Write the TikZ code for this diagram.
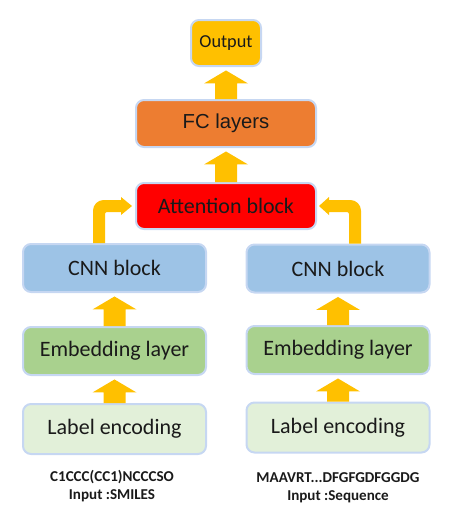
\documentclass[tikz,border=0pt]{standalone}
\usepackage{fontspec}
\setmainfont{Carlito}
\newfontfamily\arialfont{Liberation Sans}
\usetikzlibrary{calc}
\definecolor{glow}{HTML}{C6D7F2}
\definecolor{arrowc}{HTML}{FFC000}
\definecolor{outc}{HTML}{FFC000}
\definecolor{fcc}{HTML}{ED7D31}
\definecolor{attc}{HTML}{FF0000}
\definecolor{cnnc}{HTML}{9DC3E6}
\definecolor{embc}{HTML}{A9D18E}
\definecolor{lblc}{HTML}{E2F0D9}
\definecolor{ink}{HTML}{1A1A1A}
\tikzset{
  box/.style={draw=glow, line width=1.5pt, rounded corners=6pt, text=ink, inner sep=0pt,
    font=\fontsize{16.5}{18}\selectfont},
  widebox/.style={box, minimum width=135pt, minimum height=35.25pt},
  colbox/.style={box, minimum width=137.25pt, minimum height=36pt},
  arr/.style={fill=arrowc},
  note/.style={font=\fontsize{11.3}{13.5}\selectfont\bfseries, text=ink, align=center}
}
% block arrow from the top of #1 up to the bottom of #2
\newcommand{\blkup}[2]{%
  \fill[arr] let \p1=(#1.north), \p2=(#2.south) in
    (\x1-8.25pt,\y1) -- (\x1-8.25pt,\y2-12.35pt) -- (\x1-16.5pt,\y2-12.35pt)
    -- (\x1,\y2-2.6pt) -- (\x1+16.5pt,\y2-12.35pt) -- (\x1+8.25pt,\y2-12.35pt)
    -- (\x1+8.25pt,\y1) -- cycle;}

\begin{document}
\begin{tikzpicture}[x=0.75pt,y=-0.75pt]
  \useasboundingbox (0,0) rectangle (458,512);

  % top stack
  \node[box, fill=outc, minimum width=52.5pt, minimum height=34.5pt,
    font=\fontsize{13.7}{15}\selectfont] (out) at (226,43) {Output};
  \node[widebox, fill=fcc, font=\arialfont\fontsize{15.2}{17}\selectfont] (fc) at (226,123.5) {FC layers};
  \node[widebox, fill=attc, minimum height=34.5pt] (att) at (226,206) {Attention block};

  % left column
  \node[colbox, fill=cnnc] (cnnL) at (114.5,268) {CNN block};
  \node[colbox, fill=embc] (embL) at (114.5,351) {Embedding layer};
  \node[colbox, fill=lblc, minimum height=37.5pt] (lblL) at (114.5,429) {Label encoding};

  % right column
  \node[colbox, fill=cnnc] (cnnR) at (338,268.5) {CNN block};
  \node[colbox, fill=embc] (embR) at (338,350) {Embedding layer};
  \node[colbox, fill=lblc, minimum height=37.5pt] (lblR) at (338,427.5) {Label encoding};

  % inputs
  \node[note] (inL) at (112,486) {C1CCC(CC1)NCCCSO\\Input :SMILES};
  \node[note] (inR) at (338,487.5) {MAAVRT...DFGFGDFGGDG\\Input :Sequence};

  % straight arrows
  \blkup{fc}{out}
  \blkup{att}{fc}
  \blkup{embL}{cnnL}
  \blkup{lblL}{embL}
  \blkup{embR}{cnnR}
  \blkup{lblR}{embR}

  % bent arrows into the attention block
  \fill[arr] let \p1=(cnnL.north), \p2=(att.west) in
    (\x2-31.5pt,\y1) [rounded corners=8pt] -- (\x2-31.5pt,\y2+4.5pt) [sharp corners]
    -- (\x2-10.5pt,\y2+4.5pt) -- (\x2-10.5pt,\y2+6.75pt) -- (\x2-2.25pt,\y2)
    -- (\x2-10.5pt,\y2-6.75pt) -- (\x2-10.5pt,\y2-4.5pt) [rounded corners=1.5pt]
    -- (\x2-22.5pt,\y2-4.5pt) [sharp corners] -- (\x2-22.5pt,\y1) -- cycle;
  \fill[arr] let \p1=(cnnR.north), \p2=(att.east) in
    (\x2+33pt,\y1) [rounded corners=8pt] -- (\x2+33pt,\y2+4.5pt) [sharp corners]
    -- (\x2+9pt,\y2+4.5pt) -- (\x2+9pt,\y2+6.75pt) -- (\x2+1.5pt,\y2)
    -- (\x2+9pt,\y2-6.75pt) -- (\x2+9pt,\y2-4.5pt) [rounded corners=1.5pt]
    -- (\x2+24pt,\y2-4.5pt) [sharp corners] -- (\x2+24pt,\y1) -- cycle;
\end{tikzpicture}
\end{document}
